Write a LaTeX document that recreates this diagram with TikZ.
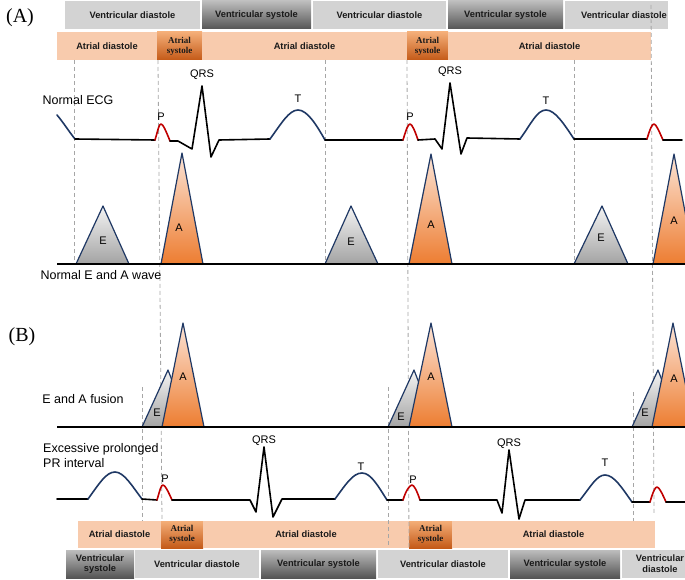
\documentclass[tikz,border=0pt]{standalone}
\usepackage{fontspec}
\setmainfont{Liberation Sans}
\newfontfamily\timesf{Liberation Serif}
\definecolor{vdc}{HTML}{D3D3D3}
\definecolor{vsTop}{HTML}{BDBDBD}
\definecolor{vsBot}{HTML}{555555}
\definecolor{adc}{HTML}{F8CBAD}
\definecolor{asTop}{HTML}{F4AE78}
\definecolor{asBot}{HTML}{C45A18}
\definecolor{txt}{HTML}{1A1A1A}
\definecolor{guidec}{HTML}{A6A6A6}
\definecolor{pred}{HTML}{C00000}
\definecolor{navy}{HTML}{1F3864}
\definecolor{eTop}{HTML}{F4F4F4}
\definecolor{eBot}{HTML}{A3A3A3}
\definecolor{aTop}{HTML}{FCE4D6}
\definecolor{aBot}{HTML}{ED7D31}
\begin{document}
\begin{tikzpicture}[x=1pt,y=-1pt,
  bar/.style={anchor=north west, inner sep=0pt, outer sep=0pt, minimum height=28pt,
    font=\fontsize{9.3}{10.8}\selectfont\bfseries, text=txt, align=center},
  vdia/.style={bar, fill=vdc},
  vsys/.style={bar, top color=vsTop, bottom color=vsBot},
  adia/.style={bar, fill=adc},
  asys/.style={bar, top color=asTop, bottom color=asBot,
    font=\timesf\fontsize{9}{10}\selectfont\bfseries},
  guide/.style={draw=guidec, line width=0.8pt, dash pattern=on 4pt off 3pt},
  ecg/.style={line width=1.6pt, line join=round, line cap=round},
  pw/.style={ecg, draw=pred},
  tw/.style={ecg, draw=navy},
  qrs/.style={ecg, draw=black},
  base/.style={line width=1.6pt, draw=black},
  ewave/.style={top color=eTop, bottom color=eBot, draw=navy, line width=1.2pt, line join=round},
  awave/.style={top color=aTop, bottom color=aBot, draw=navy, line width=1.2pt, line join=round},
  lab/.style={font=\fontsize{11}{13}\selectfont, inner sep=0pt},
  wl/.style={font=\fontsize{11}{13}\selectfont, inner sep=0pt},
  title/.style={font=\fontsize{12.5}{15}\selectfont, inner sep=0pt},
  panel/.style={font=\timesf\fontsize{20}{22}\selectfont, inner sep=0pt}
]
\useasboundingbox (0,0) rectangle (685,580);
\clip (0,0) rectangle (685,580);

% ---------- (A) top bars ----------
\node[vdia, minimum width=135pt] (vd1) at (65,1) {Ventricular diastole};
\node[vsys, minimum width=109pt] (vs1) at (202,1) {Ventricular systole};
\node[vdia, minimum width=133pt] (vd2) at (313,1) {Ventricular diastole};
\node[vsys, minimum width=115pt] (vs2) at (448,1) {Ventricular systole};
\node[vdia, minimum width=103pt] (vd3) at (565,1) {};
\node[bar, anchor=center] (vd3t) at (624,15) {Ventricular diastole};

\node[adia, minimum width=100pt] (ad1) at (57,32) {Atrial diastole};
\node[asys, minimum width=45pt] (as1) at (157,32) {Atrial\\systole};
\node[adia, minimum width=205pt] (ad2) at (202,32) {Atrial diastole};
\node[asys, minimum width=41pt] (as2) at (407,32) {Atrial\\systole};
\node[adia, minimum width=203pt] (ad3) at (448,32) {Atrial diastole};

% ---------- (B) bottom bars ----------
\node[adia, minimum width=83pt, minimum height=27pt] (ad4) at (78,521) {Atrial diastole};
\node[asys, minimum width=42pt, minimum height=27pt] (as3) at (161,521) {Atrial\\systole};
\node[adia, minimum width=206pt, minimum height=27pt] (ad5) at (203,521) {Atrial diastole};
\node[asys, minimum width=43pt, minimum height=27pt] (as4) at (409,521) {Atrial\\systole};
\node[adia, minimum width=203pt, minimum height=27pt] (ad6) at (452,521) {Atrial diastole};

\node[vsys, minimum width=68pt] (bvs1) at (66,550) {Ventricular\\systole};
\node[vdia, minimum width=124pt] (bvd1) at (135,550) {Ventricular diastole};
\node[vsys, minimum width=115pt] (bvs2) at (261,550) {Ventricular systole};
\node[vdia, minimum width=130pt] (bvd2) at (378,550) {Ventricular diastole};
\node[vsys, minimum width=110pt] (bvs3) at (510,550) {Ventricular systole};
\node[vdia, minimum width=76pt] (bvd3) at (622,550) {Ventricular\\diastole};

% ---------- guide lines ----------
\coordinate (g1t) at (74,60);   \coordinate (g1b) at (74,264);
\coordinate (g2t) at (158,60);  \coordinate (g2b) at (162,521);
\coordinate (g3t) at (325,60);  \coordinate (g3b) at (325,264);
\coordinate (g4t) at (407,60);  \coordinate (g4b) at (409,548);
\coordinate (g5t) at (574,60);  \coordinate (g5b) at (574,264);
\coordinate (g6t) at (651,5);   \coordinate (g6b) at (654,513);
\coordinate (g7t) at (142,387); \coordinate (g7b) at (142,521);
\coordinate (g8t) at (388,387); \coordinate (g8b) at (388,545);
\coordinate (g9t) at (633,392); \coordinate (g9b) at (633,521);
\foreach \g in {1,...,9} { \draw[guide] (g\g t) -- (g\g b); }

% ---------- labels ----------
\node[panel] (pA) at (20,18) {(A)};
\node[panel] (pB) at (22,337) {(B)};
\node[title] (lecg) at (78,100) {Normal ECG};
\node[title] (lea) at (101,275) {Normal E and A wave};
\node[title] (lfus) at (83,399) {E and A fusion};
\node[title, anchor=west, align=left] (lpr) at (43,456) {Excessive prolonged\\PR interval};

% ---------- (A) Normal ECG ----------
\draw[tw] (57,115) .. controls (63,122) and (70,133) .. (75,139);
\draw[qrs] (75,139) -- (155,140);
\draw[pw] (155,140) .. controls (158,130) and (159,124) .. (161,124) .. controls (163,124) and (166,131) .. (170,141);
\draw[qrs] (170,141) -- (178,141) -- (192,149) -- (202,86) -- (211,157) -- (219,140) -- (270,139);
\draw[tw] (270,139) .. controls (281,124) and (289,110) .. (298,110) .. controls (307,110) and (316,124) .. (325,140);
\draw[qrs] (325,140) -- (403,140);
\draw[pw] (403,140) .. controls (406,130) and (408,124) .. (410,124) .. controls (412,124) and (415,131) .. (418,140);
\draw[qrs] (418,140) -- (435,139) -- (442,149) -- (450,83) -- (461,154) -- (467,138) -- (520,139);
\draw[tw] (520,139) .. controls (531,124) and (537,110) .. (546,110) .. controls (555,110) and (564,124) .. (574,139);
\draw[qrs] (574,139) -- (647,139);
\draw[pw] (647,139) .. controls (650,129) and (652,124) .. (654,124) .. controls (656,124) and (659,131) .. (663,140);
\draw[qrs] (663,140) -- (682,140);
\node[lab] (p1) at (161,117) {P};
\node[lab] (q1) at (202,75) {QRS};
\node[lab] (t1) at (298,99) {T};
\node[lab] (p2) at (410,117) {P};
\node[lab] (q2) at (450,72) {QRS};
\node[lab] (t2) at (546,101) {T};

% ---------- (A) E and A waves ----------
\path[ewave] (76,264) -- (103,206) -- (129,264) -- cycle;
\path[awave] (161,264) -- (182,153) -- (203,264) -- cycle;
\path[ewave] (325,264) -- (351,206) -- (378,264) -- cycle;
\path[awave] (409,264) -- (431,154) -- (452,264) -- cycle;
\path[ewave] (574,264) -- (602,206) -- (628,264) -- cycle;
\path[awave] (653,264) -- (674,154) -- (695,264) -- cycle;
\draw[base] (57,264) -- (685,264);
\node[wl] (e1) at (103,241) {E};
\node[wl] (a1) at (179,228) {A};
\node[wl] (e2) at (351,242) {E};
\node[wl] (a2) at (431,225) {A};
\node[wl] (e3) at (601,238) {E};
\node[wl] (a3) at (674,221) {A};

% ---------- (B) fusion ----------
\path[ewave] (142,427) -- (168,370) -- (190,427) -- cycle;
\path[awave] (162,427) -- (183,323) -- (204,427) -- cycle;
\path[ewave] (388,427) -- (414,370) -- (436,427) -- cycle;
\path[awave] (409,427) -- (431,323) -- (452,427) -- cycle;
\path[ewave] (632,427) -- (658,370) -- (680,427) -- cycle;
\path[awave] (652,427) -- (673,323) -- (694,427) -- cycle;
\draw[base] (57,427) -- (685,427);
\node[wl] (e4) at (157,413) {E};
\node[wl] (a4) at (183,377) {A};
\node[wl] (e5) at (401,417) {E};
\node[wl] (a5) at (431,377) {A};
\node[wl] (e6) at (645,413) {E};
\node[wl] (a6) at (674,379) {A};

% ---------- (B) prolonged PR ECG ----------
\draw[qrs] (57,499) -- (88,499);
\draw[tw] (88,499) .. controls (99,484) and (106,472) .. (115,472) .. controls (124,472) and (132,486) .. (142,499);
\draw[qrs] (142,499) -- (157,500);
\draw[pw] (157,500) .. controls (160,490) and (161,485) .. (163,485) .. controls (165,485) and (168,491) .. (172,500);
\draw[qrs] (172,500) -- (250,500) -- (256,512) -- (264,447) -- (273,517) -- (282,499) -- (335,499);
\draw[tw] (335,499) .. controls (346,484) and (353,473) .. (362,473) .. controls (371,473) and (378,486) .. (387,500);
\draw[qrs] (387,500) -- (403,500);
\draw[pw] (403,500) .. controls (406,490) and (410,485) .. (412,485) .. controls (414,485) and (417,491) .. (420,500);
\draw[qrs] (420,500) -- (497,500) -- (502,513) -- (509,450) -- (519,519) -- (525,500) -- (580,500);
\draw[tw] (580,500) .. controls (591,486) and (597,475) .. (605,475) .. controls (614,475) and (622,488) .. (632,502);
\draw[qrs] (632,502) -- (650,502);
\draw[pw] (650,502) .. controls (653,492) and (655,487) .. (657,487) .. controls (659,487) and (662,493) .. (666,502);
\draw[qrs] (666,502) -- (685,502);
\node[lab] (p3) at (165,479) {P};
\node[lab] (q3) at (264,441) {QRS};
\node[lab] (t3) at (361,467) {T};
\node[lab] (p4) at (413,480) {P};
\node[lab] (q4) at (509,444) {QRS};
\node[lab] (t4) at (605,463) {T};
\end{tikzpicture}
\end{document}
